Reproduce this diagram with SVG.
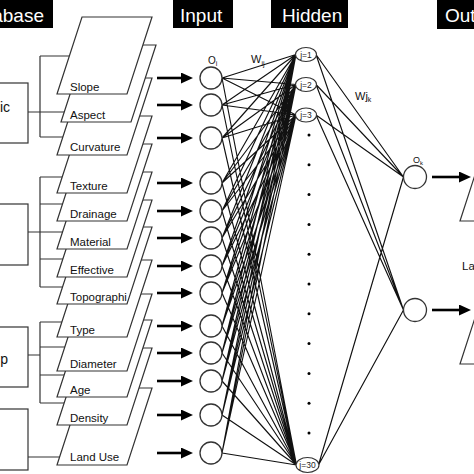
<svg xmlns="http://www.w3.org/2000/svg" width="474" height="474" viewBox="0 0 474 474">
<style>
.hdr{fill:#000}
.hdrt{fill:#fff;font-family:"Liberation Sans",Arial,sans-serif;font-size:19px}
.box{fill:#fff;stroke:#333;stroke-width:1.2}
.boxt{fill:#111;font-family:"Liberation Sans",Arial,sans-serif;font-size:14px}
.par{fill:#fff;stroke:#333;stroke-width:1.2}
.part{fill:#111;font-family:"Liberation Sans",Arial,sans-serif;font-size:11.5px}
.tree{fill:none;stroke:#333;stroke-width:1.2}
.arr{stroke:#000;stroke-width:2.6;fill:none}
.inp{fill:#fff;stroke:#333;stroke-width:1.3}
.hid{fill:#fff;stroke:#333;stroke-width:1.1}
.hidt{fill:#222;font-family:"Liberation Sans",Arial,sans-serif;font-size:8.5px;text-anchor:middle}
.w{fill:none;stroke:#111;stroke-width:1.15}
.lbl{fill:#111;font-family:"Liberation Sans",Arial,sans-serif;font-size:11px}
.sub{font-size:7px}
.dot{fill:#000}
</style>
<defs>
<marker id="ah" viewBox="0 0 12 11" markerUnits="userSpaceOnUse" markerWidth="12" markerHeight="11" refX="2" refY="5.5" orient="auto">
<path d="M0,0 L12,5.5 L0,11 z" fill="#000"/>
</marker>
</defs>

<g id="headers">
<rect class="hdr" x="-2" y="-2" width="55" height="30"/>
<text class="hdrt" x="44" y="22" text-anchor="end">abase</text>
<rect class="hdr" x="173" y="-2" width="60" height="30"/>
<text class="hdrt" x="180" y="22">Input</text>
<rect class="hdr" x="271" y="-2" width="77" height="30"/>
<text class="hdrt" x="282" y="22">Hidden</text>
<rect class="hdr" x="437" y="-2" width="40" height="31"/>
<text class="hdrt" x="445" y="22">Out</text>
</g>

<g id="connectors">
<path class="tree" d="M28,112 H65 M40,56 V137 M40,56 H70 M40,137 H64"/>
<path class="tree" d="M28,232 H63 M40,177 V287 M40,177 H63 M40,204 H63 M40,259 H64 M40,287 H63"/>
<path class="tree" d="M28,355 H40 M40,322 V403 M40,322 H63 M40,347 H66 M40,375 H65 M40,403 H65"/>
<path class="tree" d="M28,457 H61"/>
<g class="arr" marker-end="url(#ah)">
<line x1="157" y1="78" x2="183" y2="78"/>
<line x1="157" y1="105" x2="183" y2="105"/>
<line x1="157" y1="138" x2="183" y2="138"/>
<line x1="157" y1="183" x2="183" y2="183"/>
<line x1="157" y1="211" x2="183" y2="211"/>
<line x1="157" y1="238" x2="183" y2="238"/>
<line x1="157" y1="266" x2="183" y2="266"/>
<line x1="157" y1="293" x2="183" y2="293"/>
<line x1="157" y1="326" x2="183" y2="326"/>
<line x1="157" y1="353" x2="183" y2="353"/>
<line x1="157" y1="381" x2="183" y2="381"/>
<line x1="157" y1="415" x2="183" y2="415"/>
<line x1="157" y1="453" x2="183" y2="453"/>
<line x1="432" y1="177" x2="461" y2="177"/>
<line x1="432" y1="310" x2="461" y2="310"/>
</g>
<path class="w" d="M222,78L296,54.5M222,78L296,84.5M222,78L296,115M222,78L296.5,465
M222,105L296,54.5M222,105L296,84.5M222,105L296,115M222,105L296.5,465
M222,138L296,54.5M222,138L296,84.5M222,138L296,115M222,138L296.5,465
M222,183L296,54.5M222,183L296,84.5M222,183L296,115M222,183L296.5,465
M222,211L296,54.5M222,211L296,84.5M222,211L296,115M222,211L296.5,465
M222,238L296,54.5M222,238L296,84.5M222,238L296,115M222,238L296.5,465
M222,266L296,54.5M222,266L296,84.5M222,266L296,115M222,266L296.5,465
M222,293L296,54.5M222,293L296,84.5M222,293L296,115M222,293L296.5,465
M222,326L296,54.5M222,326L296,84.5M222,326L296,115M222,326L296.5,465
M222,353L296,54.5M222,353L296,84.5M222,353L296,115M222,353L296.5,465
M222,381L296,54.5M222,381L296,84.5M222,381L296,115M222,381L296.5,465
M222,415L296,54.5M222,415L296,84.5M222,415L296,115M222,415L296.5,465
M222,453L296,54.5M222,453L296,84.5M222,453L296,115M222,453L296.5,465"/>
<path class="w" d="M316,54.5L403.5,177M316,54.5L403.5,310
M316,84.5L403.5,177M316,84.5L403.5,310
M316,115L403.5,177M316,115L403.5,310
M318.5,465L403.5,177M318.5,465L403.5,310"/>
</g>

<g id="category-boxes">
<g id="box-topographic"><rect class="box" x="-5" y="83" width="33" height="60"/><text class="boxt" x="10" y="112" text-anchor="end">ic</text></g>
<g id="box-soil"><rect class="box" x="-5" y="204" width="33" height="61"/></g>
<g id="box-forest"><rect class="box" x="-5" y="327" width="33" height="60"/><text class="boxt" x="8" y="364" text-anchor="end">p</text></g>
<g id="box-landuse"><rect class="box" x="-5" y="409" width="33" height="61"/></g>
</g>

<g id="layers">
<g id="layer-landuse"><polygon class="par" points="57,465 127,465 152,388 82,388"/><text class="part" x="70" y="461">Land Use</text></g>
<g id="layer-density"><polygon class="par" points="57,425 127,425 152,348 82,348"/><text class="part" x="70" y="422">Density</text></g>
<g id="layer-age"><polygon class="par" points="57,397 127,397 152,320 82,320"/><text class="part" x="70" y="394">Age</text></g>
<g id="layer-diameter"><polygon class="par" points="57,371 127,371 152,294 82,294"/><text class="part" x="70" y="368">Diameter</text></g>
<g id="layer-type"><polygon class="par" points="57,337 127,337 152,260 82,260"/><text class="part" x="70" y="334">Type</text></g>
<g id="layer-topographi"><polygon class="par" points="57,304 127,304 152,227 82,227"/><text class="part" x="70" y="301">Topographi</text></g>
<g id="layer-effective"><polygon class="par" points="57,277 127,277 152,200 82,200"/><text class="part" x="70" y="274">Effective</text></g>
<g id="layer-material"><polygon class="par" points="57,249 127,249 152,172 82,172"/><text class="part" x="70" y="246">Material</text></g>
<g id="layer-drainage"><polygon class="par" points="57,221 127,221 152,144 82,144"/><text class="part" x="70" y="218">Drainage</text></g>
<g id="layer-texture"><polygon class="par" points="57,193 127,193 152,116 82,116"/><text class="part" x="70" y="190">Texture</text></g>
<g id="layer-curvature"><polygon class="par" points="57,155 127,155 152,78 82,78"/><text class="part" x="70" y="151">Curvature</text></g>
<g id="layer-aspect"><polygon class="par" points="61,122 131,122 156,45 86,45"/><text class="part" x="70" y="119">Aspect</text></g>
<g id="layer-slope"><polygon class="par" points="57,94 127,94 152,17 82,17"/><text class="part" x="70" y="91">Slope</text></g>
</g>

<g id="input-nodes">
<text class="lbl" x="208" y="64" style="font-size:10px">O<tspan class="sub" dy="2">i</tspan></text>
<circle class="inp" cx="211" cy="78" r="11"/>
<circle class="inp" cx="211" cy="105" r="11"/>
<circle class="inp" cx="211" cy="138" r="11"/>
<circle class="inp" cx="211" cy="183" r="11"/>
<circle class="inp" cx="211" cy="211" r="11"/>
<circle class="inp" cx="211" cy="238" r="11"/>
<circle class="inp" cx="211" cy="266" r="11"/>
<circle class="inp" cx="211" cy="293" r="11"/>
<circle class="inp" cx="211" cy="326" r="11"/>
<circle class="inp" cx="211" cy="353" r="11"/>
<circle class="inp" cx="211" cy="381" r="11"/>
<circle class="inp" cx="211" cy="415" r="11"/>
<circle class="inp" cx="211" cy="453" r="11"/>
</g>

<g id="weight-labels">
<text class="lbl" x="251" y="63">W<tspan class="sub" dy="3">ij</tspan></text>
<text class="lbl" x="355" y="100">Wj<tspan class="sub" dy="2">k</tspan></text>
</g>

<g id="hidden-nodes">
<g id="h1"><ellipse class="hid" cx="306" cy="54.5" rx="10.5" ry="7"/><text class="hidt" x="306" y="57.5">j=1</text></g>
<g id="h2"><ellipse class="hid" cx="306" cy="84.5" rx="10.5" ry="7"/><text class="hidt" x="306" y="87.5">j=2</text></g>
<g id="h3"><ellipse class="hid" cx="306" cy="115" rx="10.5" ry="7"/><text class="hidt" x="306" y="118">j=3</text></g>
<g id="h-dots">
<circle class="dot" cx="309" cy="135" r="1.5"/>
<circle class="dot" cx="309" cy="164.8" r="1.5"/>
<circle class="dot" cx="309" cy="194.6" r="1.5"/>
<circle class="dot" cx="309" cy="224.4" r="1.5"/>
<circle class="dot" cx="309" cy="254.2" r="1.5"/>
<circle class="dot" cx="309" cy="284" r="1.5"/>
<circle class="dot" cx="309" cy="313.8" r="1.5"/>
<circle class="dot" cx="309" cy="343.6" r="1.5"/>
<circle class="dot" cx="309" cy="373.4" r="1.5"/>
<circle class="dot" cx="309" cy="403.2" r="1.5"/>
<circle class="dot" cx="309" cy="433" r="1.5"/>
</g>
<g id="h30"><ellipse class="hid" cx="307.5" cy="465" rx="11.5" ry="7.5"/><text class="hidt" x="307.5" y="468">j=30</text></g>
</g>

<g id="output-nodes">
<text class="lbl" x="413" y="163" style="font-size:9px">O<tspan class="sub" dy="1.5" style="font-size:6px">k</tspan></text>
<circle class="inp" cx="415" cy="177" r="11.5"/>
<circle class="inp" cx="415" cy="310" r="11.5"/>
</g>

<g id="output-layers">
<polygon class="par" points="460,221 530,221 555,144 485,144"/>
<text class="part" x="462" y="270">La</text>
<polygon class="par" points="460,364 530,364 555,287 485,287"/>
</g>
</svg>
